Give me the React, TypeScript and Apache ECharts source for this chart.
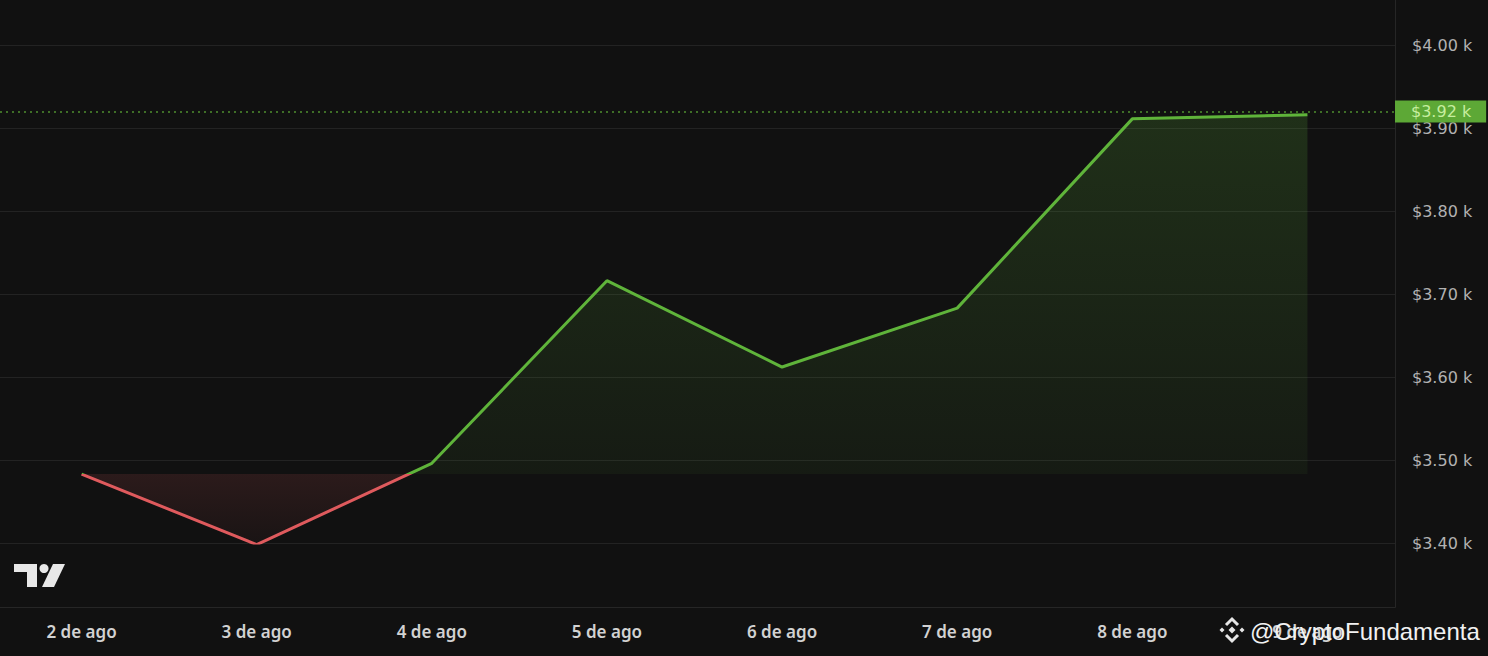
import React, { useEffect, useRef } from "react";
import * as echarts from "echarts";

const categories = ["2 de ago", "3 de ago", "4 de ago", "5 de ago", "6 de ago", "7 de ago", "8 de ago", "9 de ago"];
const prices = [3.483, 3.398, 3.496, 3.716, 3.612, 3.683, 3.911, 3.916];
const baseline = 3.483;
const lastPrice = 3.916;
const yMin = 3.4;
const yMax = 4.0;
const yStep = 0.1;
const watermark = "@CryptoFundamenta";

const GREEN = "#5fb43a";
const RED = "#df5a5d";
const OFF = 6; // container shifted left so the first band centre lands where the reference has it

export default function App() {
  const ref = useRef<HTMLDivElement>(null);
  useEffect(() => {
    document.body.style.margin = "0";
    const chart = echarts.init(ref.current!, undefined, { renderer: "svg" });
    const hi = Math.max(...prices);
    const lo = Math.min(...prices);
    const split = (hi - baseline) / (hi - lo);
    const areaGradient = new echarts.graphic.LinearGradient(0, 0, 0, 1, [
      { offset: 0, color: "rgba(95,180,58,0.19)" },
      { offset: split, color: "rgba(95,180,58,0.06)" },
      { offset: split, color: "rgba(223,90,93,0.13)" },
      { offset: 1, color: "rgba(223,90,93,0.04)" },
    ]);
    const option: any = {
      animation: false,
      backgroundColor: "#111111",
      grid: { left: 0, right: 93, top: 45, bottom: 113 },
      xAxis: {
        type: "category",
        data: categories,
        boundaryGap: true,
        axisLine: { show: false },
        axisTick: { show: false },
        splitLine: { show: false },
        axisLabel: {
          margin: 80,
          color: "#d2d2d2",
          fontSize: 17,
          fontWeight: 600,
          fontFamily: "Noto Sans",
        },
      },
      yAxis: {
        type: "value",
        position: "right",
        min: yMin,
        max: yMax,
        interval: yStep,
        axisLine: { show: false },
        axisTick: { show: false },
        splitLine: { show: true, lineStyle: { color: "#232323", width: 1 } },
        axisLabel: {
          margin: 17,
          color: "#b2b2b2",
          fontSize: 16,
          fontFamily: "DejaVu Sans",
          formatter: (v: number) => `$${v.toFixed(2)} k`,
        },
      },
      visualMap: {
        show: false,
        type: "piecewise",
        dimension: 1,
        seriesIndex: 0,
        pieces: [
          { gte: 0, lt: baseline, color: RED },
          { gte: baseline, lte: 100, color: GREEN },
        ],
      },
      series: [
        {
          type: "line",
          data: prices,
          symbol: "none",
          lineStyle: { width: 3 },
          areaStyle: { origin: baseline, color: areaGradient, opacity: 1 },
          z: 3,
          markLine: {
            silent: true,
            symbol: "none",
            lineStyle: { color: "#4f8f2f", type: [2, 4], width: 1.5 },
            label: {
              show: true,
              position: "end",
              distance: 0,
              formatter: `$${lastPrice.toFixed(2)} k`,
              backgroundColor: "#5da836",
              color: "#c6ee9f",
              fontSize: 16,
              fontFamily: "DejaVu Sans",
              padding: [3, 15, 3, 16],
            },
            data: [{ yAxis: lastPrice }],
          },
        },
      ],
      graphic: [
        {
          type: "line",
          shape: { x1: 0, y1: 607.5, x2: 1395.5 + OFF, y2: 607.5 },
          style: { stroke: "#262626", lineWidth: 1 },
          silent: true,
        },
        {
          type: "line",
          shape: { x1: 1395.5 + OFF, y1: 0, x2: 1395.5 + OFF, y2: 607.5 },
          style: { stroke: "#262626", lineWidth: 1 },
          silent: true,
        },
        {
          type: "group",
          x: 14 + OFF,
          y: 564,
          children: [
            { type: "polygon", shape: { points: [[0, 0], [23, 0], [23, 23], [13, 23], [13, 8], [0, 8]] }, style: { fill: "#e8e8e8" } },
            { type: "circle", shape: { cx: 30, cy: 4.5, r: 4.5 }, style: { fill: "#e8e8e8" } },
            { type: "polygon", shape: { points: [[39, 0], [51, 0], [40, 23], [28, 23]] }, style: { fill: "#e8e8e8" } },
          ],
        },
        {
          type: "group",
          x: 1232 + OFF,
          y: 630,
          children: [
            { type: "polygon", shape: { points: [[0, -3.5], [3.5, 0], [0, 3.5], [-3.5, 0]] }, style: { fill: "#e6e6e6" } },
            { type: "polygon", shape: { points: [[-10, -2.5], [-7.5, 0], [-10, 2.5], [-12.5, 0]] }, style: { fill: "#e6e6e6" } },
            { type: "polygon", shape: { points: [[10, -2.5], [12.5, 0], [10, 2.5], [7.5, 0]] }, style: { fill: "#e6e6e6" } },
            { type: "polyline", shape: { points: [[-6, -5], [0, -11], [6, -5]] }, style: { stroke: "#e6e6e6", lineWidth: 3, fill: "none" } },
            { type: "polyline", shape: { points: [[-6, 5], [0, 11], [6, 5]] }, style: { stroke: "#e6e6e6", lineWidth: 3, fill: "none" } },
          ],
        },
        {
          type: "text",
          x: 1250 + OFF,
          y: 631,
          style: {
            text: watermark,
            fill: "#f2f2f2",
            fontSize: 24,
            fontFamily: "Liberation Sans",
            verticalAlign: "middle",
            textAlign: "left",
          },
          z: 10,
        },
      ],
    };
    chart.setOption(option);
    return () => chart.dispose();
  }, []);
  return <div ref={ref} style={{ width: 1488 + OFF, height: 656, position: "fixed", left: -OFF, top: 0 }} />;
}
